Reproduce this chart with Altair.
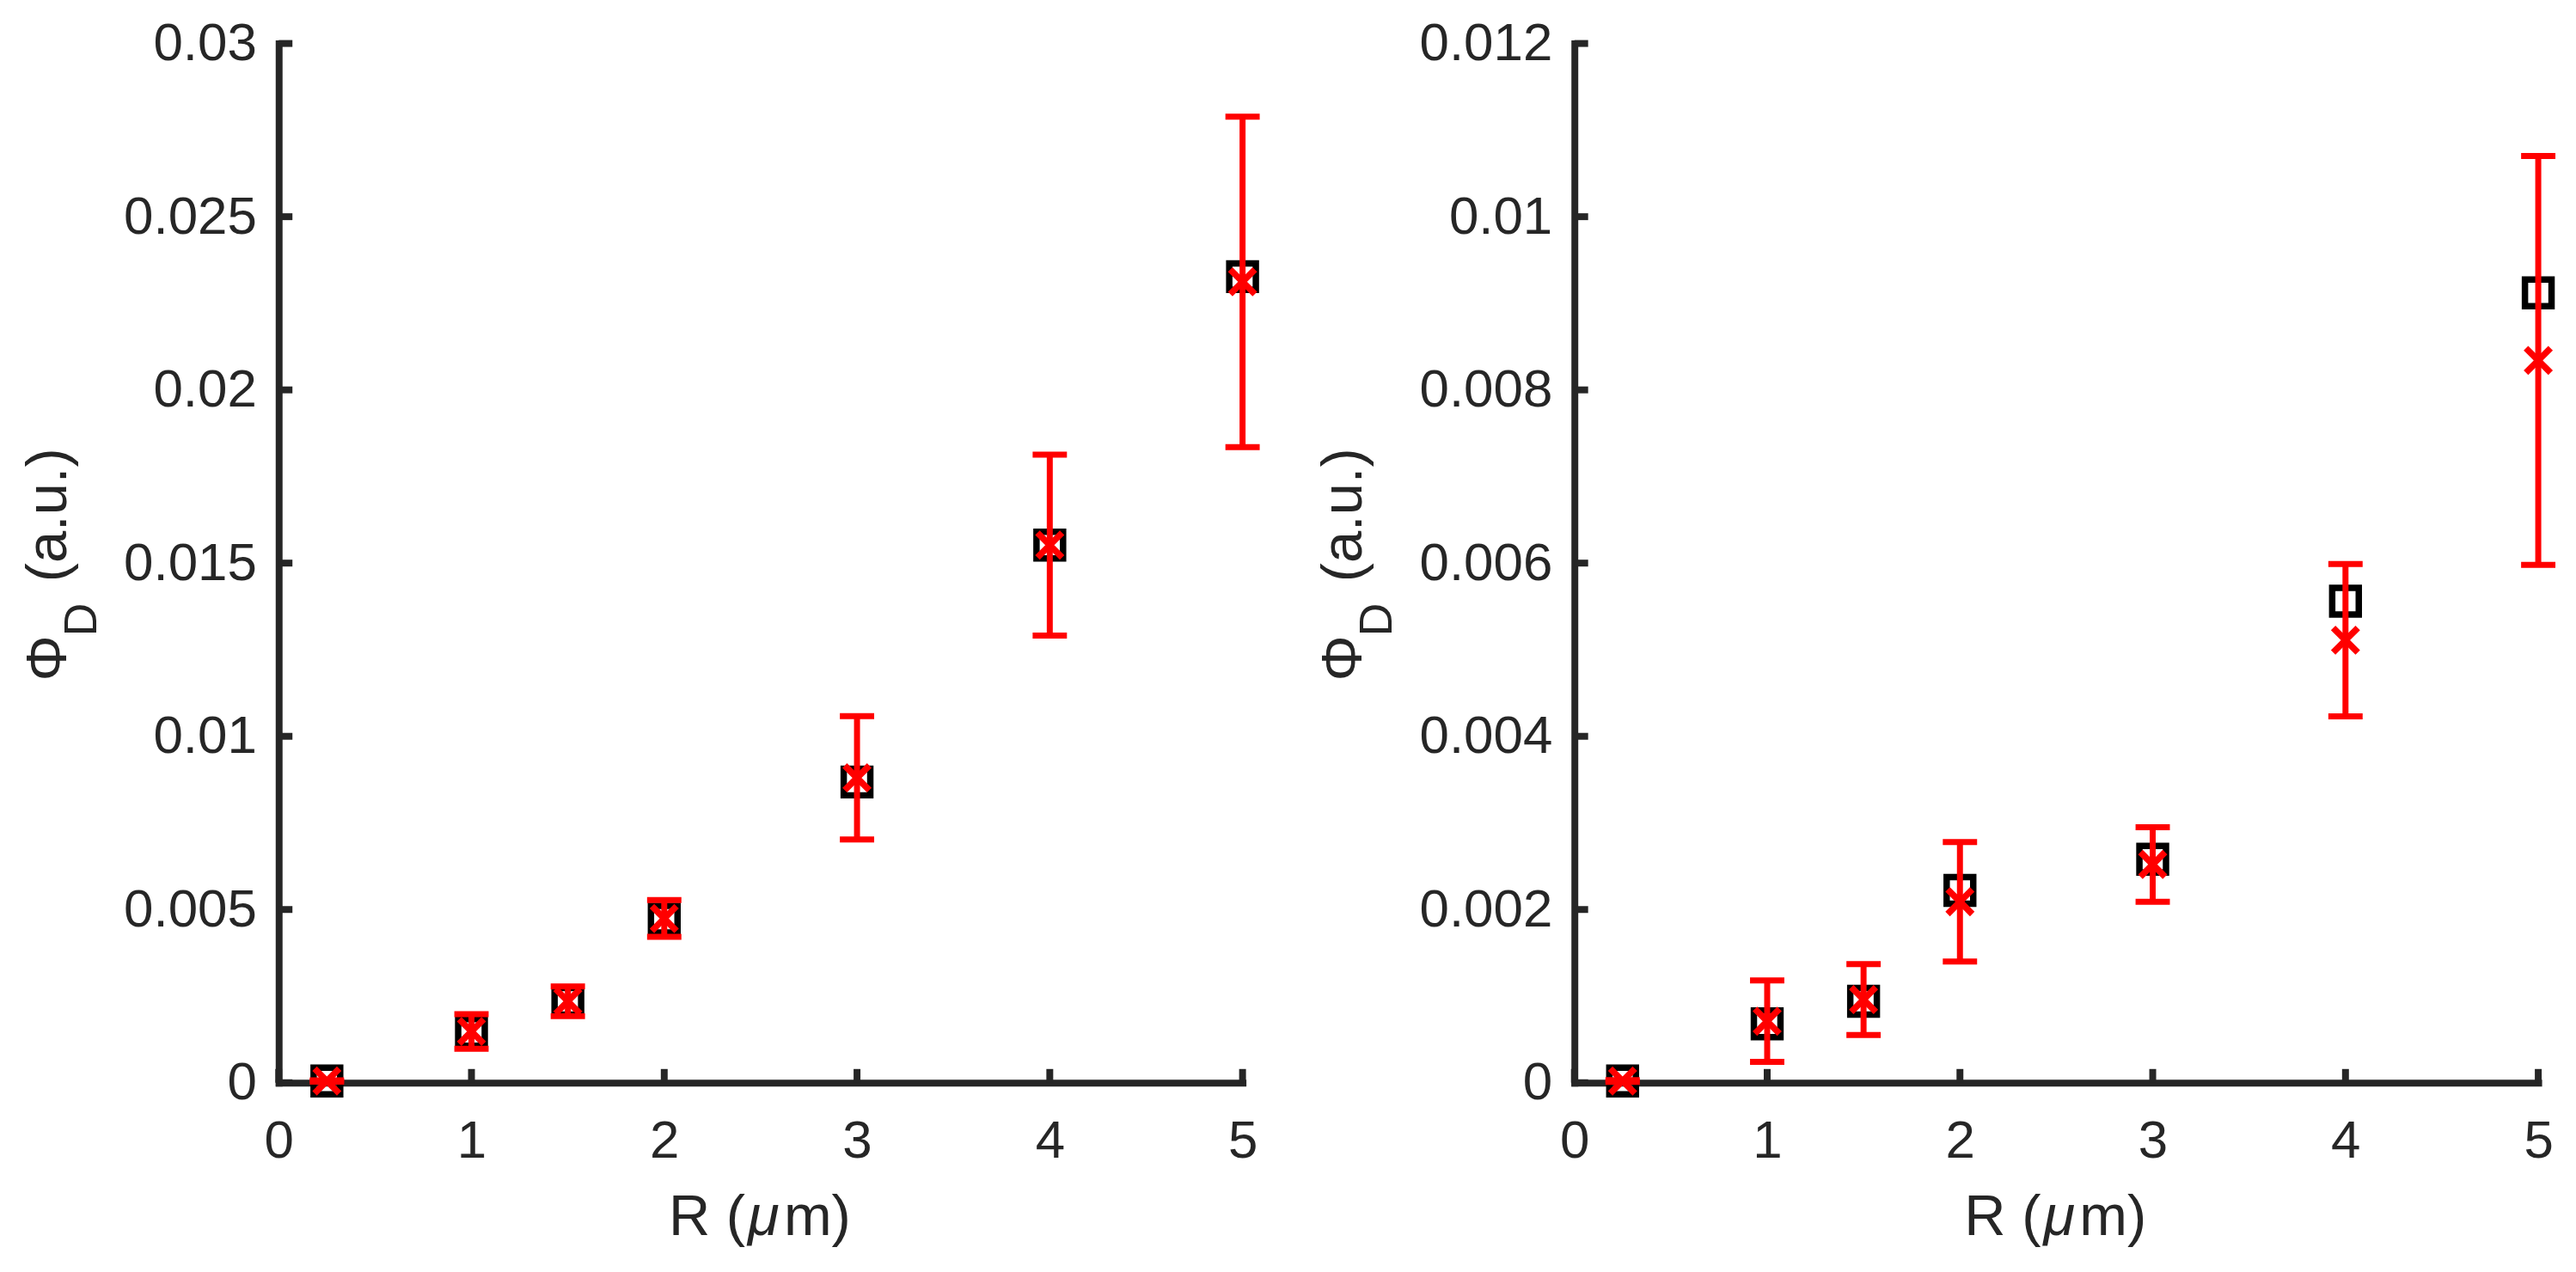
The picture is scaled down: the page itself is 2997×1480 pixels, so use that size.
import altair as alt
import pandas as pd

# ---- data ----
R = [0.25, 1, 1.5, 2, 3, 4, 5]

left_square = [0.00005, 0.00145, 0.00235, 0.00472, 0.00868, 0.01552, 0.02327]
left_cross = [0.00005, 0.00148, 0.00235, 0.00474, 0.00880, 0.01552, 0.02312]
left_err = [0.00002, 0.00050, 0.00043, 0.00053, 0.00178, 0.00261, 0.00477]

right_square = [0.00002, 0.00068, 0.00094, 0.00222, 0.00258, 0.00556, 0.00912]
right_cross = [0.00002, 0.00071, 0.00096, 0.00209, 0.00252, 0.00511, 0.00834]
right_err = [0.00001, 0.00047, 0.00041, 0.00069, 0.00043, 0.00088, 0.00236]

x_ticks = [0, 1, 2, 3, 4, 5]
left_yticks = [0, 0.005, 0.01, 0.015, 0.02, 0.025, 0.03]
right_yticks = [0, 0.002, 0.004, 0.006, 0.008, 0.01, 0.012]

x_title_parts = ["R (", "μ", "m)"]
y_title_main = "Φ"
y_title_sub = "D"
y_title_unit = "(a.u.)"

# ---- styling ----
W, H = 1124, 1212
AX = "#262626"
FONT = "Liberation Sans"
LW = 7.5


def panel(sq, cr, er, yticks):
    df = pd.DataFrame({"R": R, "sq": sq, "cr": cr, "err": er})
    df["lo"] = df["cr"] - df["err"]
    df["hi"] = df["cr"] + df["err"]
    ymax = yticks[-1]
    xs = alt.Scale(domain=[0, 5], nice=False, zero=False)
    ys = alt.Scale(domain=[0, ymax], nice=False, zero=False)
    xa = alt.Axis(
        values=x_ticks, title=None, grid=False, ticks=False, tickSize=0,
        labelFont=FONT, labelFontSize=62, labelColor=AX, labelPadding=38,
        labelFlush=False, labelOverlap=False,
        domainColor=AX, domainWidth=8, domainCap="square")
    ya = alt.Axis(
        values=yticks, format="~g", title=None, grid=False, ticks=False, tickSize=0,
        labelFont=FONT, labelFontSize=62, labelColor=AX, labelPadding=26,
        labelFlush=False, labelOverlap=False,
        domainColor=AX, domainWidth=8, domainCap="square")

    def X(f):
        return alt.X(f, scale=xs, axis=xa, title=None)

    def Y(f):
        return alt.Y(f, scale=ys, axis=ya, title=None)

    base = alt.Chart(df)
    squares = base.mark_point(
        shape="square", filled=False, stroke="black", strokeWidth=LW,
        size=961, opacity=1
    ).encode(x=X("R:Q"), y=Y("sq:Q"))
    bars = base.mark_rule(color="#ff0000", strokeWidth=7).encode(
        x=X("R:Q"), y=Y("lo:Q"), y2="hi:Q")
    cap_lo = base.mark_tick(orient="horizontal", color="#ff0000", thickness=7,
                            size=40, opacity=1).encode(x=X("R:Q"), y=Y("lo:Q"))
    cap_hi = base.mark_tick(orient="horizontal", color="#ff0000", thickness=7,
                            size=40, opacity=1).encode(x=X("R:Q"), y=Y("hi:Q"))
    crosses = base.mark_point(
        shape="M-1,-1L1,1M-1,1L1,-1", filled=False, stroke="#ff0000",
        strokeWidth=LW, size=824, opacity=1
    ).encode(x=X("R:Q"), y=Y("cr:Q"))
    xt = alt.Chart(pd.DataFrame({"R": x_ticks})).mark_rule(
        color=AX, strokeWidth=8).encode(
        x=X("R:Q"), y=alt.value(H), y2=alt.value(H - 16))
    yt = alt.Chart(pd.DataFrame({"sq": yticks})).mark_rule(
        color=AX, strokeWidth=8).encode(
        y=Y("sq:Q"), x=alt.value(0), x2=alt.value(16))
    one = pd.DataFrame({"k": [0]})

    def txt(s, x, y, size=67, angle=0, align="center", style="normal"):
        kw = dict(text=s, font=FONT, fontSize=size, color=AX, align=align,
                  baseline="alphabetic", fontStyle=style)
        if angle:
            kw["angle"] = angle
        return alt.Chart(one).mark_text(**kw).encode(
            x=alt.value(x), y=alt.value(y))

    t_main = txt(y_title_main, -248, 717, angle=270)
    t_sub = txt(y_title_sub, -213, 672, size=54, angle=270)
    t_unit = txt(y_title_unit, -248, 550, angle=270)
    bx = H + 178
    x1 = txt(x_title_parts[0], 544, bx, align="right")
    x2 = txt(x_title_parts[1], 547, bx, align="left", style="italic")
    x3 = txt(x_title_parts[2], 589, bx, align="left")

    return alt.layer(squares, bars, cap_lo, cap_hi, crosses, xt, yt,
                     t_main, t_sub, t_unit, x1, x2, x3).properties(width=W, height=H)


left = panel(left_square, left_cross, left_err, left_yticks)
right = panel(right_square, right_cross, right_err, right_yticks)

chart = alt.hconcat(left, right, spacing=54).properties(
    padding={"left": 15, "top": 10, "right": 5, "bottom": 5},
    background="white",
).configure_view(stroke=None)

chart.save("out.html", embed_options={"renderer": "svg", "actions": False})
